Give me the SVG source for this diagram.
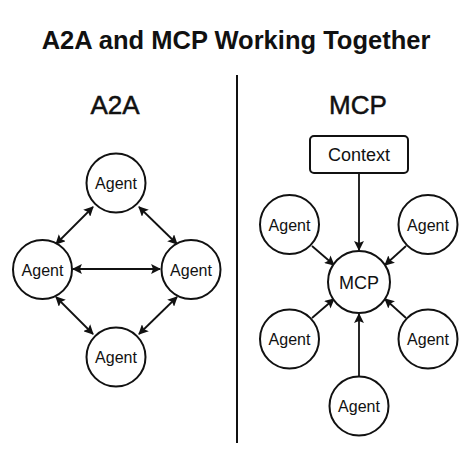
<svg xmlns="http://www.w3.org/2000/svg" width="474" height="474" viewBox="0 0 474 474">
<style>
text{font-family:"Liberation Sans",Arial,sans-serif;fill:#111;text-anchor:middle}
.title{font-size:25.5px;font-weight:bold}
.sub{font-size:26px;stroke:#111;stroke-width:0.5}
.lbl{font-size:16px}
.node circle,.node rect{fill:#fff;stroke:#111;stroke-width:2}
.conn line{stroke:#111;stroke-width:1.8;fill:none}
</style>
<defs>
<marker id="ah" viewBox="0 0 10 10" refX="9" refY="5" markerWidth="5.5" markerHeight="5.5" orient="auto-start-reverse" markerUnits="strokeWidth">
<path d="M0,0 L10,5 L0,10 L2,5 Z" fill="#111"/>
</marker>
</defs>
<rect width="474" height="474" fill="#fff"/>
<text class="title" x="236" y="49">A2A and MCP Working Together</text>
<line x1="237" y1="75" x2="237" y2="443" stroke="#111" stroke-width="2"/>
<text class="sub" x="115" y="114">A2A</text>
<text class="sub" x="358" y="114">MCP</text>
<g class="conn">
<line x1="93" y1="207" x2="56" y2="244" marker-start="url(#ah)" marker-end="url(#ah)"/>
<line x1="139" y1="207" x2="177" y2="244" marker-start="url(#ah)" marker-end="url(#ah)"/>
<line x1="73" y1="269" x2="160" y2="269" marker-start="url(#ah)" marker-end="url(#ah)"/>
<line x1="56" y1="297" x2="93" y2="334" marker-start="url(#ah)" marker-end="url(#ah)"/>
<line x1="177" y1="297" x2="139" y2="334" marker-start="url(#ah)" marker-end="url(#ah)"/>
<line x1="359" y1="173" x2="359" y2="250" marker-end="url(#ah)"/>
<line x1="312" y1="246" x2="334" y2="265" marker-end="url(#ah)"/>
<line x1="406" y1="246" x2="385" y2="265" marker-end="url(#ah)"/>
<line x1="312" y1="318" x2="334" y2="299" marker-end="url(#ah)"/>
<line x1="406" y1="318" x2="385" y2="299" marker-end="url(#ah)"/>
<line x1="359" y1="377" x2="359" y2="314" marker-end="url(#ah)"/>
</g>
<g id="a2a-top" class="node"><circle cx="116" cy="183" r="29.5"/><text class="lbl" x="116" y="189">Agent</text></g>
<g id="a2a-left" class="node"><circle cx="42.5" cy="269.5" r="29.5"/><text class="lbl" x="42.5" y="275.5">Agent</text></g>
<g id="a2a-right" class="node"><circle cx="191" cy="269.5" r="29.5"/><text class="lbl" x="191" y="275.5">Agent</text></g>
<g id="a2a-bottom" class="node"><circle cx="116" cy="357" r="29.5"/><text class="lbl" x="116" y="363">Agent</text></g>
<g id="context" class="node"><rect x="310" y="136" width="98" height="37" rx="4"/><text x="359" y="161" style="font-size:18px">Context</text></g>
<g id="mcp" class="node"><circle cx="359" cy="282" r="31"/><text x="359" y="288.5" style="font-size:18px">MCP</text></g>
<g id="mcp-agent-tl" class="node"><circle cx="289.5" cy="224.5" r="29.5"/><text class="lbl" x="289.5" y="230.5">Agent</text></g>
<g id="mcp-agent-tr" class="node"><circle cx="428" cy="224.5" r="29.5"/><text class="lbl" x="428" y="230.5">Agent</text></g>
<g id="mcp-agent-bl" class="node"><circle cx="289.5" cy="339" r="29.5"/><text class="lbl" x="289.5" y="345">Agent</text></g>
<g id="mcp-agent-br" class="node"><circle cx="428" cy="339" r="29.5"/><text class="lbl" x="428" y="345">Agent</text></g>
<g id="mcp-agent-b" class="node"><circle cx="359" cy="406" r="29.5"/><text class="lbl" x="359" y="412">Agent</text></g>
</svg>
